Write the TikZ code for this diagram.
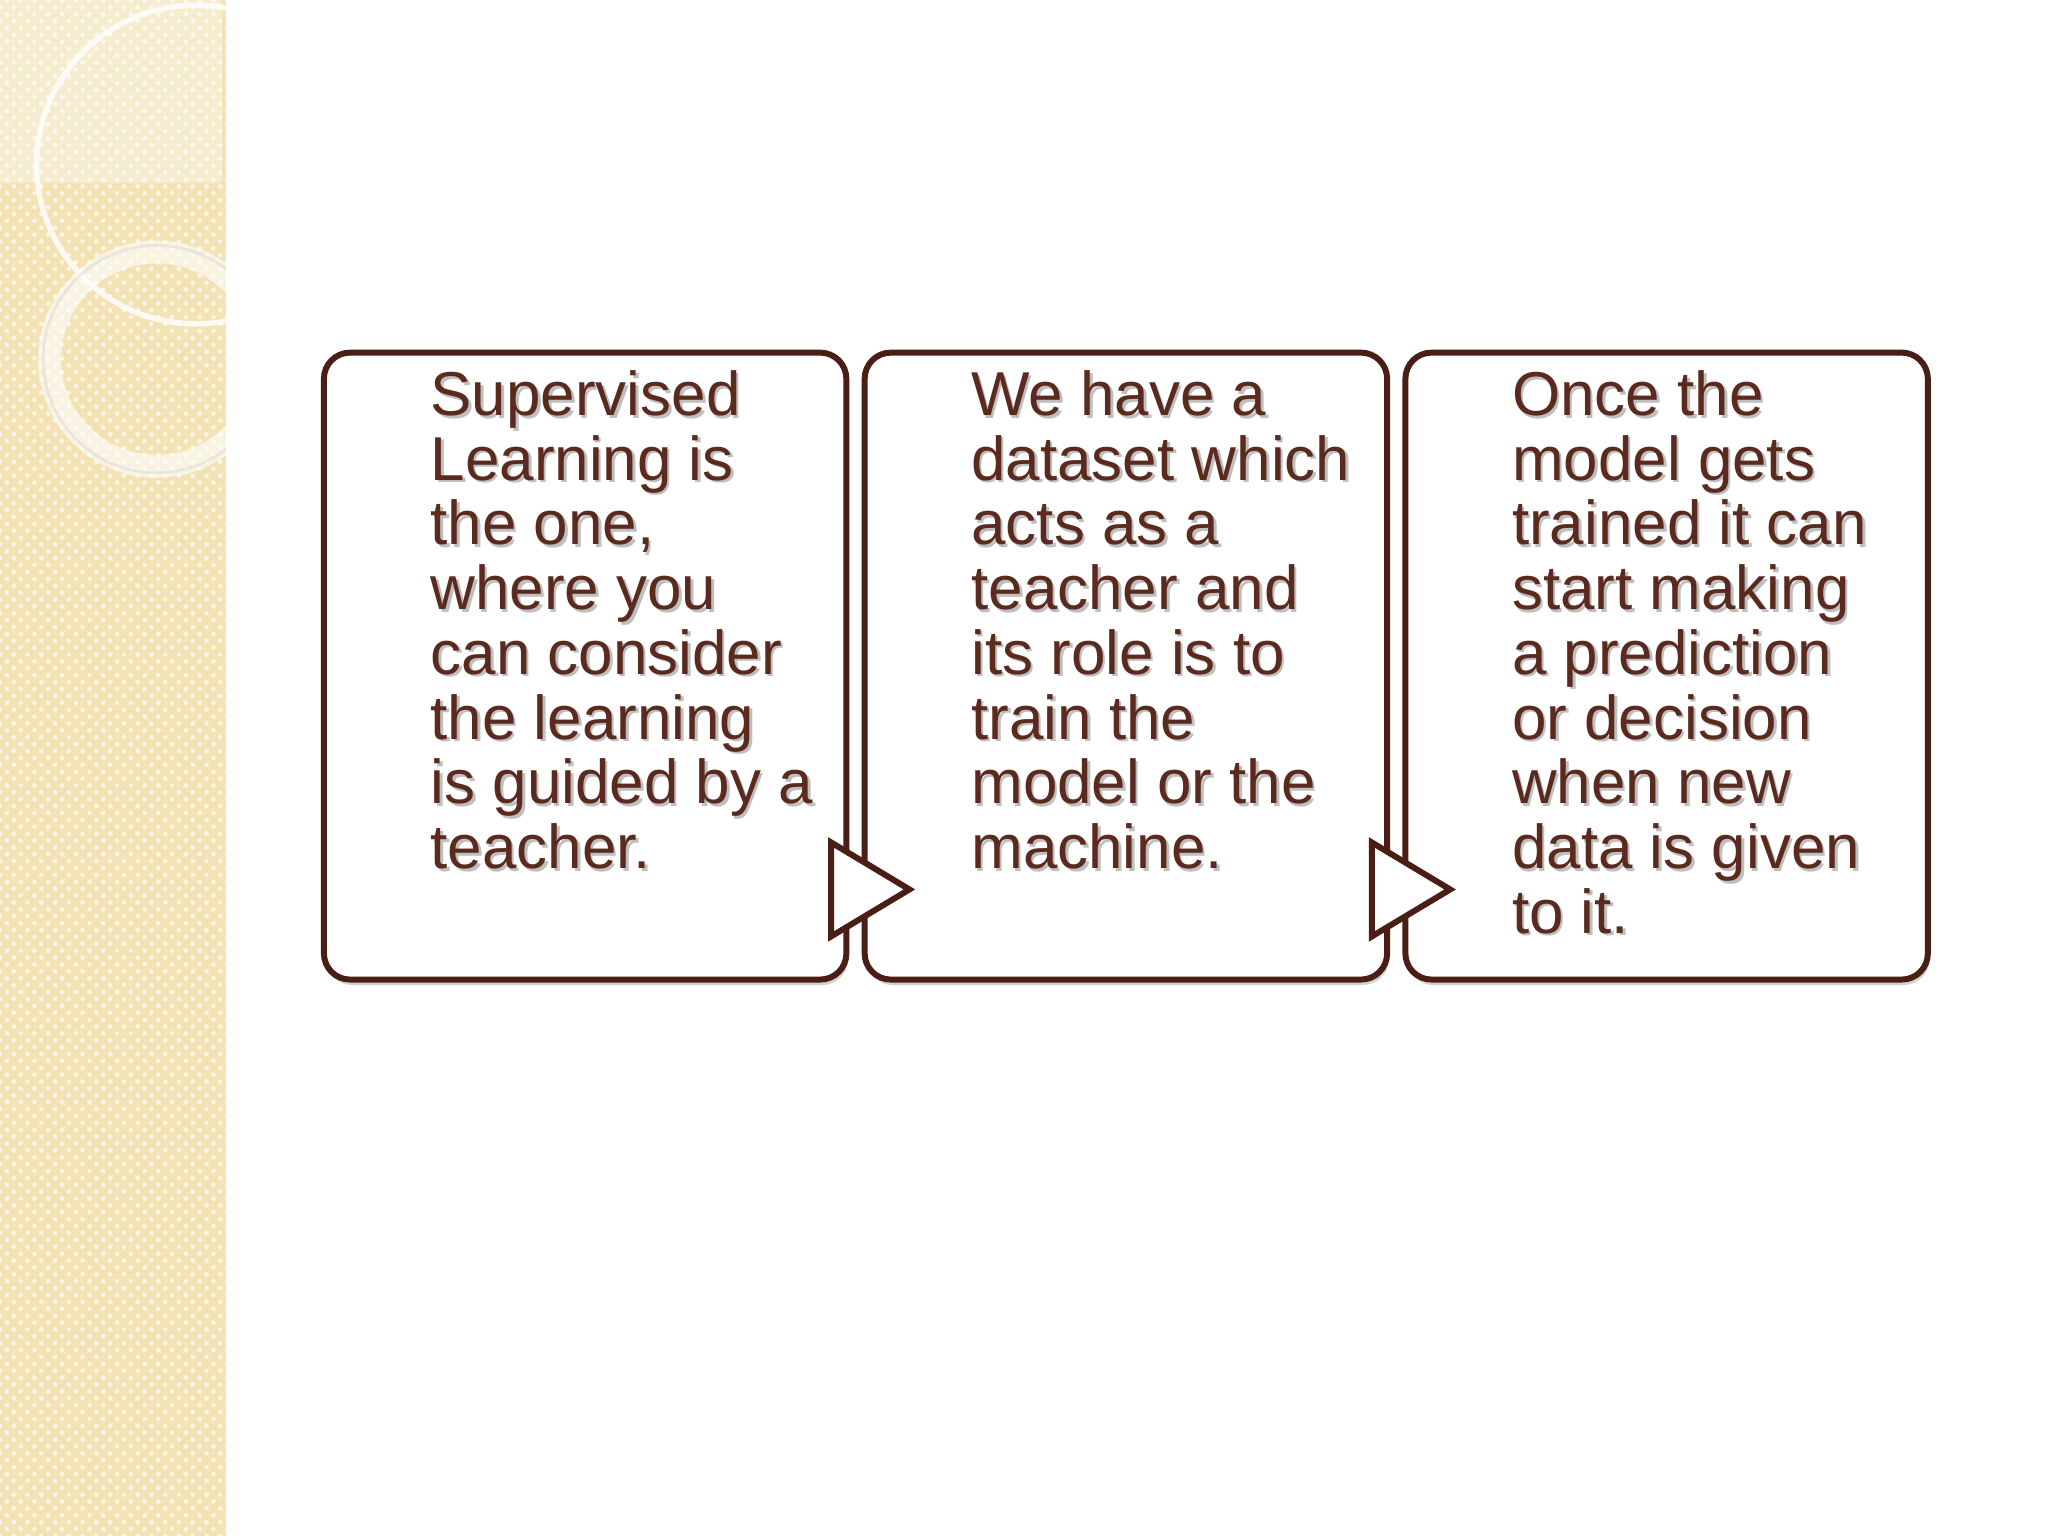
\documentclass[tikz,border=0pt]{standalone}
\usepackage{fontspec}
\setmainfont{Liberation Sans}
\usetikzlibrary{shadows,patterns}
\definecolor{brownline}{HTML}{4A1E14}
\definecolor{browntext}{HTML}{5B2A1E}
\definecolor{beige}{HTML}{F2E2B4}
\tikzset{
  card/.style={draw=brownline,line width=1.3pt,rounded corners=0.2cm,fill=white,
    drop shadow={shadow xshift=0.4pt,shadow yshift=-1.2pt,opacity=0.35}},
  cardtext/.style={anchor=north west,inner sep=0pt,align=left,text=browntext,
    font=\fontsize{13.5}{14.1}\selectfont},
  shadowtext/.style={cardtext,text=black!25},
  tri/.style={draw=brownline,line width=1.3pt,fill=white,line join=miter}
}
\newcommand{\tA}{Supervised\\Learning is\\the one,\\where you\\can consider\\the learning\\is guided by a\\teacher.}
\newcommand{\tB}{We have a\\dataset which\\acts as a\\teacher and\\its role is to\\train the\\model or the\\machine.}
\newcommand{\tC}{Once the\\model gets\\trained it can\\start making\\a prediction\\or decision\\when new\\data is given\\to it.}
\begin{document}
\begin{tikzpicture}
\useasboundingbox (0,0) rectangle (15.68,11.76);
\fill[white] (0,0) rectangle (15.68,11.76);
% left band
\fill[beige] (0,0) rectangle (1.73,11.76);
\fill[pattern=crosshatch dots,pattern color=white!70!beige] (0,0) rectangle (1.73,11.76);
\fill[white,opacity=0.35] (0,10.36) rectangle (1.70,11.76);
\begin{scope}
\clip (0,0) rectangle (1.73,11.76);
\draw[white,opacity=0.8,line width=1.2pt] (1.50,10.50) circle (1.22);
\draw[white,opacity=0.6,line width=5pt] (1.20,9.01) circle (0.82);
\draw[black!15,opacity=0.5,line width=0.6pt] (1.20,9.01) circle (0.87);
\end{scope}
% cards
\node[card,minimum width=4.0cm,minimum height=4.8cm,inner sep=0pt] (b1) at (4.48,6.66) {};
\node[card,minimum width=4.0cm,minimum height=4.8cm,inner sep=0pt] (b2) at (8.62,6.66) {};
\node[card,minimum width=4.0cm,minimum height=4.8cm,inner sep=0pt] (b3) at (12.76,6.66) {};
% texts
\node[shadowtext] at (3.31,8.91) {\tA};
\node[cardtext] (t1) at (3.29,8.93) {\tA};
\node[shadowtext] at (7.45,8.91) {\tB};
\node[cardtext] (t2) at (7.43,8.93) {\tB};
\node[shadowtext] at (11.59,8.91) {\tC};
\node[cardtext] (t3) at (11.57,8.93) {\tC};
% arrows
\coordinate (a1) at (b1.east);
\coordinate (a2) at (b2.east);
\draw[tri] ([xshift=-0.14cm,yshift=0.36cm]a1 |- 0,4.95) -- ([xshift=0.46cm]a1 |- 0,4.95) -- ([xshift=-0.14cm,yshift=-0.36cm]a1 |- 0,4.95) -- cycle;
\draw[tri] ([xshift=-0.14cm,yshift=0.36cm]a2 |- 0,4.95) -- ([xshift=0.46cm]a2 |- 0,4.95) -- ([xshift=-0.14cm,yshift=-0.36cm]a2 |- 0,4.95) -- cycle;
\end{tikzpicture}
\end{document}
